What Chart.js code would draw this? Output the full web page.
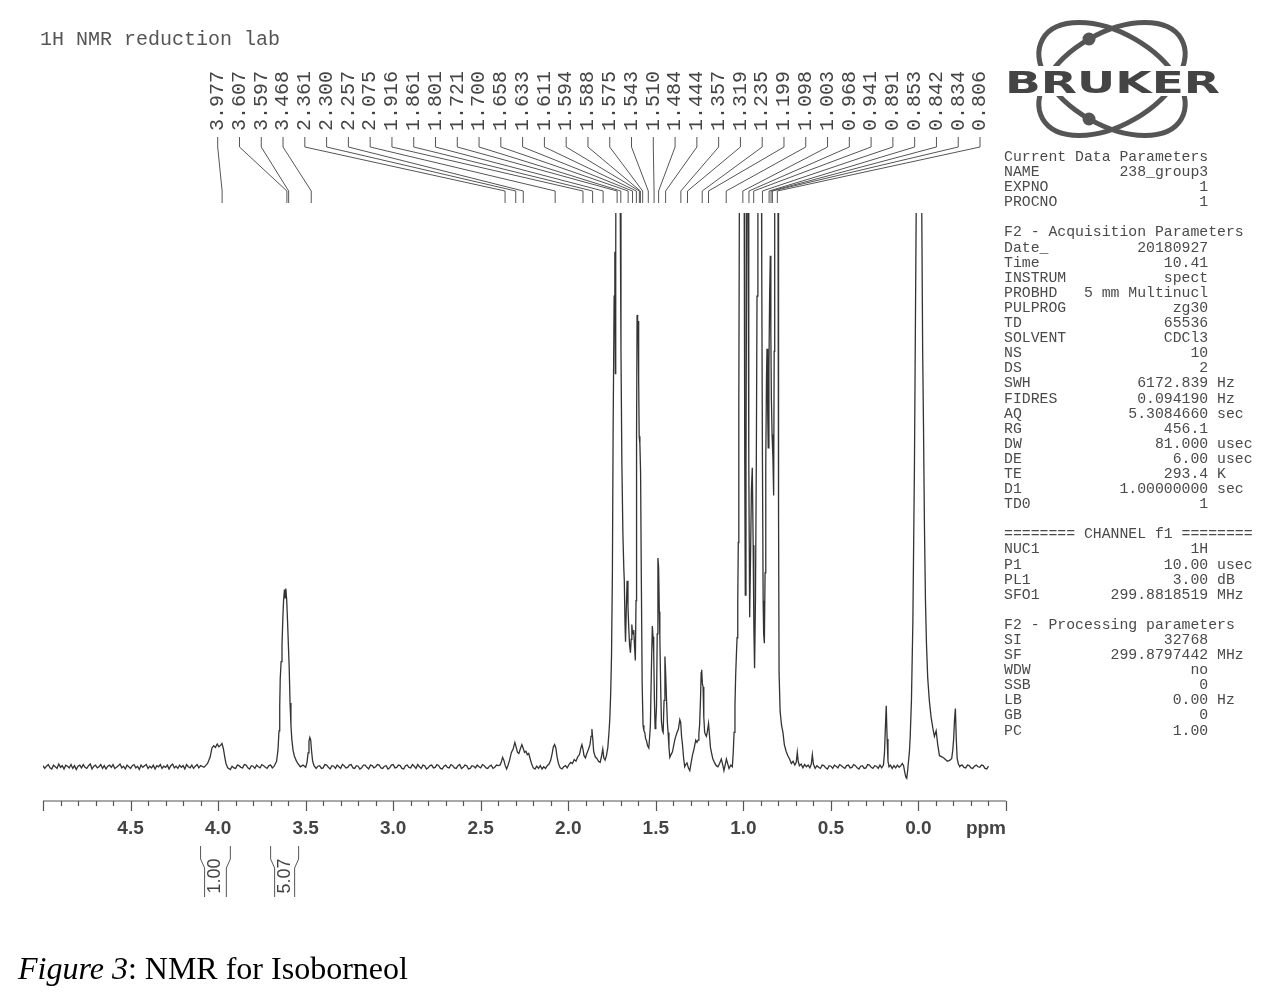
<!DOCTYPE html>
<html>
<head>
<meta charset="utf-8">
<script src="https://cdn.jsdelivr.net/npm/chart.js@4.4.1/dist/chart.umd.min.js"></script>
<style>
  html, body { margin: 0; padding: 0; background: #fff; }
  #page { position: relative; width: 1268px; height: 994px; overflow: hidden; }
  #nmr { position: absolute; left: 0; top: 0; }
  #title { position: absolute; left: 40px; top: 30px; font: 20px/20px "Liberation Mono", monospace; color: #555; white-space: pre; }
  #params { position: absolute; left: 1004px; top: 150px; margin: 0; font: 14.8px/15.1px "Liberation Mono", monospace; color: #4a4a4a; }
  #logo { position: absolute; left: 1000px; top: 10px; }
  #caption { position: absolute; left: 18px; top: 948px; font: 32px/40px "Liberation Serif", serif; color: #000; white-space: pre; }
</style>
</head>
<body>
<div id="page">
  <canvas id="nmr" width="1268" height="994"></canvas>
  <div id="title">1H NMR reduction lab</div>
  <svg id="logo" width="268" height="140" viewBox="1000 10 268 140">
    <ellipse cx="1112" cy="79" rx="80" ry="46" transform="rotate(30 1112 79)" fill="none" stroke="#555" stroke-width="5"/>
    <ellipse cx="1112" cy="79" rx="80" ry="46" transform="rotate(-30 1112 79)" fill="none" stroke="#555" stroke-width="5"/>
    <circle cx="1089" cy="39" r="6.5" fill="#555"/>
    <circle cx="1089" cy="119" r="6.5" fill="#555"/>
    <rect x="1003" y="66" width="222" height="30" fill="#fff"/>
    <text x="1005" y="93" font-family="DejaVu Sans" font-weight="bold" font-size="31" textLength="215" lengthAdjust="spacingAndGlyphs" fill="#444">BRUKER</text>
  </svg>
  <pre id="params"></pre>
  <div id="caption"><i>Figure 3</i>: NMR for Isoborneol</div>
</div>
<script>
"use strict";

// spectrum trace: [ppm, intensity] (100 = top of the plot, peaks above are clipped)
var spectrum = [
  [5.00,0.2],[4.99,-0.3],[4.98,0.1],[4.97,0.4],[4.96,-0.2],[4.95,-0.4],[4.94,0.3],[4.93,0.0],[4.92,-0.3],[4.91,0.5],
  [4.90,-0.1],[4.89,0.2],[4.88,-0.4],[4.87,0.3],[4.86,0.1],[4.85,-0.2],[4.84,0.4],[4.83,-0.3],[4.82,0.2],[4.81,-0.5],
  [4.80,0.1],[4.79,0.3],[4.78,-0.2],[4.77,0.4],[4.76,-0.1],[4.75,-0.3],[4.74,0.2],[4.73,0.5],[4.72,-0.4],[4.71,0.1],
  [4.70,0.3],[4.69,-0.2],[4.68,0.0],[4.67,0.4],[4.66,-0.3],[4.65,0.2],[4.64,-0.4],[4.63,0.1],[4.62,0.3],[4.61,-0.1],
  [4.60,0.4],[4.59,-0.3],[4.58,-0.1],[4.57,0.2],[4.56,0.5],[4.55,-0.2],[4.54,0.1],[4.53,-0.4],[4.52,0.3],[4.51,0.0],
  [4.50,-0.3],[4.49,0.2],[4.48,0.4],[4.47,-0.2],[4.46,0.1],[4.45,-0.5],[4.44,0.3],[4.43,-0.1],[4.42,0.2],[4.41,0.4],
  [4.40,-0.3],[4.39,0.1],[4.38,-0.2],[4.37,0.3],[4.36,-0.4],[4.35,0.2],[4.34,0.0],[4.33,0.4],[4.32,-0.3],[4.31,0.1],
  [4.30,-0.1],[4.29,0.3],[4.28,-0.4],[4.27,0.2],[4.26,0.5],[4.25,-0.2],[4.24,0.1],[4.23,-0.3],[4.22,0.3],[4.21,-0.1],
  [4.20,0.2],[4.19,-0.4],[4.18,0.4],[4.17,0.0],[4.16,-0.2],[4.15,0.3],[4.14,-0.3],[4.13,0.1],[4.12,0.4],[4.11,-0.2],
  [4.10,0.2],
  // 3.98 multiplet
  [4.08,-0.1],[4.06,0.6],[4.045,1.8],[4.035,3.4],[4.025,3.8],[4.015,3.5],[4.005,4.1],[3.995,3.6],[3.985,3.9],[3.978,4.2],
  [3.970,3.3],[3.962,1.8],[3.955,0.6],[3.945,-0.2],[3.93,-0.5],
  [3.92,0.1],[3.91,-0.2],[3.90,-0.3],[3.89,0.3],[3.88,0.2],[3.87,-0.1],[3.86,-0.2],[3.85,0.4],[3.84,0.3],[3.83,-0.2],
  [3.82,-0.4],[3.81,0.2],[3.80,0.1],[3.79,-0.3],[3.78,0.3],[3.77,0.0],[3.76,-0.2],[3.75,0.4],[3.74,0.2],[3.73,-0.1],
  [3.72,-0.3],[3.71,0.2],[3.70,0.3],[3.69,-0.2],[3.68,0.1],
  // 3.61
  [3.666,1.0],[3.658,3.0],[3.652,6.5],[3.648,11.0],[3.645,16.0],[3.640,19.0],[3.635,22.0],[3.630,27.0],[3.626,30.0],[3.621,32.0],
  [3.617,30.5],[3.613,32.2],[3.608,30.0],[3.603,26.0],[3.598,21.5],[3.594,18.0],[3.589,11.5],[3.584,7.5],[3.579,5.0],[3.572,3.0],
  [3.565,2.0],[3.555,1.2],[3.545,0.6],[3.530,0.0],[3.515,0.3],
  // 3.47
  [3.500,-0.1],[3.492,0.8],[3.486,2.5],[3.481,4.6],[3.476,5.3],[3.471,4.8],[3.466,2.8],[3.460,1.0],[3.452,0.2],[3.44,-0.3],
  [3.43,0.1],[3.42,0.2],[3.41,-0.3],[3.40,-0.2],[3.39,0.4],[3.38,0.3],[3.37,-0.1],[3.36,-0.4],[3.35,0.2],[3.34,0.1],
  [3.33,-0.3],[3.32,0.3],[3.31,0.0],[3.30,-0.3],[3.29,0.4],[3.28,0.2],[3.27,-0.2],[3.26,-0.1],[3.25,0.3],[3.24,0.4],
  [3.23,-0.2],[3.22,-0.3],[3.21,0.2],[3.20,0.1],[3.19,-0.4],[3.18,-0.2],[3.17,0.3],[3.16,0.3],[3.15,-0.1],[3.14,-0.4],
  [3.13,0.3],[3.12,0.2],[3.11,-0.2],[3.10,0.0],[3.09,0.4],[3.08,0.3],[3.07,-0.2],[3.06,-0.3],[3.05,0.1],[3.04,0.2],
  [3.03,-0.4],[3.02,-0.2],[3.01,0.3],[3.00,0.4],[2.99,-0.2],[2.98,-0.1],[2.97,0.3],[2.96,0.2],[2.95,-0.3],[2.94,-0.4],
  [2.93,0.2],[2.92,0.3],[2.91,-0.1],[2.90,-0.2],[2.89,0.4],[2.88,0.1],[2.87,-0.3],[2.86,0.4],[2.85,0.0],[2.84,-0.3],
  [2.83,0.3],[2.82,0.2],[2.81,-0.4],[2.80,-0.2],[2.79,0.2],[2.78,0.3],[2.77,-0.2],[2.76,-0.1],[2.75,0.4],[2.74,0.2],
  [2.73,-0.3],[2.72,-0.4],[2.71,0.1],[2.70,0.3],[2.69,-0.1],[2.68,-0.2],[2.67,0.4],[2.66,0.2],[2.65,-0.2],[2.64,-0.3],
  [2.63,0.2],[2.62,0.4],[2.61,-0.3],[2.60,-0.1],[2.59,0.3],[2.58,0.2],[2.57,-0.4],[2.56,-0.3],[2.55,0.2],[2.54,0.1],
  [2.53,-0.2],[2.52,0.3],[2.51,0.0],[2.50,-0.2],[2.49,0.4],[2.48,0.2],[2.47,-0.2],[2.46,-0.3],[2.45,0.1],[2.44,0.3],
  [2.43,-0.3],[2.42,-0.1],[2.41,0.3],[2.40,0.2],
  // 2.36 - 2.22
  [2.390,0.3],[2.382,0.9],[2.375,1.7],[2.368,1.2],[2.360,0.2],[2.352,-0.4],[2.345,0.2],[2.335,1.2],[2.325,2.6],[2.315,3.2],
  [2.305,4.4],[2.298,3.6],[2.290,2.6],[2.282,2.4],[2.274,3.2],[2.265,4.0],[2.258,3.4],[2.250,2.6],[2.242,2.8],[2.234,2.2],
  [2.226,2.4],[2.218,1.5],[2.210,0.6],[2.200,-0.2],[2.190,-0.4],[2.180,0.1],[2.170,-0.3],[2.160,0.2],[2.150,-0.4],[2.140,0.0],
  [2.130,-0.3],[2.120,0.2],
  // 2.075
  [2.110,0.5],[2.100,1.2],[2.092,2.4],[2.085,3.6],[2.078,4.0],[2.071,3.4],[2.064,1.8],[2.056,0.6],[2.046,-0.2],[2.036,-0.4],
  [2.026,0.0],[2.016,0.2],[2.006,-0.2],[1.996,0.4],
  // 1.99 - 1.76
  [1.986,0.8],[1.976,0.6],[1.966,1.3],[1.956,1.0],[1.946,1.8],[1.936,2.2],[1.928,3.4],[1.922,4.0],[1.916,3.2],[1.910,2.0],
  [1.902,1.6],[1.894,2.4],[1.884,3.2],[1.876,4.0],[1.870,5.5],[1.865,6.8],[1.860,5.0],[1.855,2.8],[1.846,1.8],[1.837,1.5],
  [1.827,1.0],[1.818,0.8],[1.810,1.9],[1.803,3.2],[1.797,1.6],[1.790,1.2],[1.782,2.0],[1.774,3.5],[1.768,6.0],[1.763,8.5],
  // 1.72 / 1.70 cluster
  [1.758,13.0],[1.753,20.0],[1.748,35.0],[1.744,60.0],[1.738,85.0],[1.734,93.0],[1.731,71.0],[1.729,90.0],[1.727,130.0],[1.718,170.0],
  [1.710,160.0],[1.706,130.0],[1.703,100.0],[1.699,75.0],[1.694,55.0],[1.688,42.0],[1.683,36.0],[1.680,33.6],[1.676,26.0],[1.673,22.6],
  [1.669,28.0],[1.664,33.6],[1.659,29.0],[1.655,25.4],[1.650,22.0],[1.645,20.6],[1.641,23.0],[1.637,25.7],[1.633,24.0],[1.630,24.0],
  [1.626,24.7],[1.622,22.0],[1.617,19.2],[1.613,30.0],[1.610,60.0],[1.607,81.6],[1.604,79.0],[1.601,80.5],[1.598,70.0],[1.595,59.7],
  [1.591,58.3],[1.587,53.2],[1.583,35.0],[1.578,15.0],[1.573,7.5],[1.568,6.5],[1.563,6.2],[1.558,5.0],[1.554,4.8],[1.547,3.8],
  // 1.54 - 1.42
  [1.540,3.4],[1.535,5.5],[1.531,7.5],[1.525,18.0],[1.520,25.4],[1.516,23.5],[1.512,20.6],[1.508,12.0],[1.504,6.9],[1.500,8.0],
  [1.496,11.0],[1.492,24.0],[1.488,37.7],[1.484,36.0],[1.480,28.0],[1.477,23.3],[1.472,14.0],[1.468,8.2],[1.462,6.5],[1.458,6.2],
  [1.453,12.0],[1.448,19.9],[1.444,17.0],[1.439,12.3],[1.434,8.0],[1.430,6.2],[1.425,3.5],[1.420,1.7],[1.413,2.2],[1.405,2.7],
  // 1.40 - 1.06
  [1.398,3.8],[1.392,4.8],[1.386,5.5],[1.379,6.2],[1.371,6.8],[1.363,8.5],[1.358,8.0],[1.353,5.5],[1.348,4.1],[1.341,1.5],
  [1.335,0.0],[1.329,0.4],[1.322,0.7],[1.314,-0.2],[1.306,-0.7],[1.298,0.8],[1.290,2.2],[1.282,3.2],[1.272,4.8],[1.265,4.4],
  [1.259,4.8],[1.254,6.0],[1.250,7.5],[1.245,12.0],[1.241,17.0],[1.238,17.5],[1.234,15.0],[1.230,14.4],[1.226,9.0],[1.221,6.2],
  [1.216,5.8],[1.211,5.5],[1.205,6.5],[1.199,7.8],[1.193,5.5],[1.188,3.5],[1.183,2.7],[1.175,1.5],[1.164,0.7],[1.155,0.2],
  [1.145,0.0],[1.136,0.6],[1.126,1.4],[1.118,0.4],[1.111,-0.7],[1.104,0.3],[1.097,1.4],[1.090,0.6],[1.082,-0.3],[1.072,0.3],
  [1.063,0.0],[1.058,2.5],[1.053,6.2],[1.048,11.0],[1.044,16.5],[1.040,20.0],[1.036,23.3],[1.032,30.0],[1.029,40.5],[1.026,65.0],
  // methyl region 1.02 - 0.80
  [1.023,100.0],[1.016,160.0],[1.006,150.0],[0.999,120.0],[0.995,100.0],[0.992,55.0],[0.989,31.0],[0.985,55.0],[0.981,100.0],[0.977,130.0],
  [0.973,100.0],[0.969,55.0],[0.964,27.0],[0.959,38.0],[0.954,50.0],[0.949,54.0],[0.944,40.0],[0.940,25.0],[0.936,17.8],[0.931,30.0],
  [0.926,55.0],[0.922,85.0],[0.917,120.0],[0.905,160.0],[0.898,120.0],[0.895,90.0],[0.891,55.0],[0.887,30.0],[0.884,24.0],[0.880,22.3],
  [0.876,35.0],[0.872,55.0],[0.868,70.0],[0.865,75.5],[0.861,64.0],[0.858,57.6],[0.854,72.0],[0.850,85.0],[0.846,92.3],[0.843,78.0],
  [0.840,66.5],[0.836,60.0],[0.831,55.6],[0.827,49.0],[0.824,75.0],[0.821,110.0],[0.815,160.0],[0.806,150.0],[0.802,100.0],[0.799,45.0],
  [0.796,17.0],[0.790,10.0],[0.782,7.5],[0.774,6.2],[0.766,4.0],[0.756,2.8],[0.746,2.0],[0.736,1.4],[0.726,0.6],[0.716,1.0],
  [0.706,0.3],[0.698,0.8],[0.692,2.6],[0.687,1.0],[0.680,0.2],[0.670,0.5],[0.660,-0.2],[0.650,0.4],[0.640,0.0],[0.630,0.3],
  [0.620,-0.2],[0.612,0.5],[0.606,2.2],[0.600,0.5],[0.590,-0.3],[0.580,0.2],
  [0.57,-0.1],[0.56,-0.3],[0.55,0.3],[0.54,0.2],[0.53,-0.2],[0.52,-0.4],[0.51,0.2],[0.50,0.1],[0.49,-0.3],[0.48,0.3],
  [0.47,0.1],[0.46,-0.2],[0.45,0.4],[0.44,0.2],[0.43,-0.1],[0.42,-0.3],[0.41,0.2],[0.40,0.3],[0.39,-0.2],[0.38,-0.1],
  [0.37,0.4],[0.36,0.2],[0.35,-0.2],[0.34,-0.4],[0.33,0.1],[0.32,0.2],[0.31,-0.3],[0.30,-0.2],[0.29,0.4],[0.28,0.3],
  [0.27,-0.1],[0.26,-0.3],[0.25,0.2],[0.24,0.1],[0.23,-0.3],[0.22,0.3],[0.21,-0.2],
  // satellite, TMS, satellite
  [0.200,0.3],[0.194,2.5],[0.189,7.0],[0.184,11.0],[0.179,5.0],[0.174,1.0],[0.168,0.0],[0.160,0.3],[0.150,-0.3],[0.140,0.2],
  [0.130,-0.2],[0.120,0.3],[0.110,-0.1],[0.100,0.2],[0.092,0.6],[0.085,0.2],[0.078,-1.0],[0.072,-1.9],[0.067,-2.1],[0.062,-0.8],
  [0.058,0.6],[0.052,2.5],[0.047,5.5],[0.040,12.0],[0.032,26.0],[0.023,54.0],[0.013,100.0],[0.005,180.0],[-0.003,220.0],[-0.011,180.0],
  [-0.019,100.0],[-0.024,75.0],[-0.029,61.0],[-0.034,44.0],[-0.040,30.0],[-0.046,22.0],[-0.053,16.0],[-0.062,12.0],[-0.072,9.0],[-0.082,7.0],
  [-0.091,5.5],[-0.101,6.5],[-0.110,4.0],[-0.120,2.0],[-0.134,1.8],[-0.148,1.5],[-0.165,1.0],[-0.180,1.2],[-0.190,1.5],[-0.196,3.0],
  [-0.201,5.0],[-0.206,8.5],[-0.211,10.5],[-0.216,5.0],[-0.221,1.5],[-0.228,0.5],[-0.236,0.0],
  [-0.24,0.2],[-0.25,0.3],[-0.26,-0.1],[-0.27,-0.2],[-0.28,0.3],[-0.29,0.2],[-0.30,-0.2],[-0.31,-0.3],[-0.32,0.1],[-0.33,0.3],
  [-0.34,0.0],[-0.35,-0.1],[-0.36,0.3],[-0.37,0.2],[-0.38,-0.3],[-0.39,-0.4],[-0.40,0.1]
];

// peak picking labels printed above the spectrum
var peakLabels = ["3.977", "3.607", "3.597", "3.468", "2.361", "2.300", "2.257", "2.075", "1.916",
  "1.861", "1.801", "1.721", "1.700", "1.658", "1.633", "1.611", "1.594", "1.588", "1.575",
  "1.543", "1.510", "1.484", "1.444", "1.357", "1.319", "1.235", "1.199", "1.098", "1.003",
  "0.968", "0.941", "0.891", "0.853", "0.842", "0.834", "0.806"];

// integral regions below the axis
var integralFrom = [4.10, 3.70];
var integralTo = [3.93, 3.54];
var integralValues = ["1.00", "5.07"];

// ppm axis
var tickValues = [4.5, 4.0, 3.5, 3.0, 2.5, 2.0, 1.5, 1.0, 0.5, 0.0];
var ppmMin = -0.5, ppmMax = 5.0;

// acquisition / processing parameter block
var paramRows = [
  ["Current Data Parameters"], ["NAME", "238_group3"], ["EXPNO", "1"], ["PROCNO", "1"], [""],
  ["F2 - Acquisition Parameters"], ["Date_", "20180927"], ["Time", "10.41"], ["INSTRUM", "spect"],
  ["PROBHD", "5 mm Multinucl"], ["PULPROG", "zg30"], ["TD", "65536"], ["SOLVENT", "CDCl3"],
  ["NS", "10"], ["DS", "2"], ["SWH", "6172.839", "Hz"], ["FIDRES", "0.094190", "Hz"],
  ["AQ", "5.3084660", "sec"], ["RG", "456.1"], ["DW", "81.000", "usec"], ["DE", "6.00", "usec"],
  ["TE", "293.4", "K"], ["D1", "1.00000000", "sec"], ["TD0", "1"], [""],
  ["======== CHANNEL f1 ========"], ["NUC1", "1H"], ["P1", "10.00", "usec"], ["PL1", "3.00", "dB"],
  ["SFO1", "299.8818519", "MHz"], [""],
  ["F2 - Processing parameters"], ["SI", "32768"], ["SF", "299.8797442", "MHz"], ["WDW", "no"],
  ["SSB", "0"], ["LB", "0.00", "Hz"], ["GB", "0"], ["PC", "1.00"]
];

document.getElementById("params").textContent = paramRows.map(function(r) {
  if (r.length < 2) return r[0];
  return r[0].padEnd(23 - r[1].length) + r[1] + (r[2] ? " " + r[2] : "");
}).join("\n");

var nmrDecor = {
  id: "nmrDecor",
  afterDatasetsDraw: function(chart) {
    var ctx = chart.ctx;
    var xs = chart.scales.x;
    var axisY = 801;
    ctx.save();
    ctx.strokeStyle = "#555";
    ctx.fillStyle = "#444";
    ctx.lineWidth = 1.2;

    // axis line + ticks
    ctx.beginPath();
    ctx.moveTo(xs.getPixelForValue(ppmMax), axisY);
    ctx.lineTo(xs.getPixelForValue(ppmMin), axisY);
    for (var k = -5; k <= 50; k++) {
      var px = Math.round(xs.getPixelForValue(k / 10)) + 0.5;
      ctx.moveTo(px, axisY);
      ctx.lineTo(px, axisY + (k % 5 === 0 ? 10 : 5));
    }
    ctx.stroke();

    ctx.font = "bold 19px 'Liberation Sans', Arial, sans-serif";
    ctx.textAlign = "center";
    ctx.textBaseline = "middle";
    tickValues.forEach(function(v) {
      ctx.fillText(v.toFixed(1), xs.getPixelForValue(v), 829);
    });
    ctx.textAlign = "right";
    ctx.fillText("ppm", xs.getPixelForValue(ppmMin), 829);

    // peak labels with their leader lines
    ctx.font = "20px 'Liberation Mono', monospace";
    ctx.textAlign = "left";
    ctx.lineWidth = 1;
    var x0 = 217.7, dx = 21.78;
    peakLabels.forEach(function(s, i) {
      var lx = x0 + i * dx;
      var px = xs.getPixelForValue(parseFloat(s));
      ctx.save();
      ctx.translate(lx, 131);
      ctx.rotate(-Math.PI / 2);
      ctx.fillText(s, 0, 0);
      ctx.restore();
      ctx.beginPath();
      ctx.moveTo(lx, 137);
      ctx.lineTo(lx, 147);
      ctx.lineTo(px, 191);
      ctx.lineTo(px, 203);
      ctx.stroke();
    });

    // integrals
    ctx.font = "18px 'Liberation Sans', Arial, sans-serif";
    ctx.textAlign = "center";
    integralValues.forEach(function(label, i) {
      var a = xs.getPixelForValue(integralFrom[i]);
      var b = xs.getPixelForValue(integralTo[i]);
      ctx.beginPath();
      ctx.moveTo(a, 846); ctx.lineTo(a, 859); ctx.lineTo(a + 4, 868); ctx.lineTo(a + 4, 897);
      ctx.moveTo(b, 846); ctx.lineTo(b, 859); ctx.lineTo(b - 4, 868); ctx.lineTo(b - 4, 897);
      ctx.stroke();
      ctx.save();
      ctx.translate((a + b) / 2, 876);
      ctx.rotate(-Math.PI / 2);
      ctx.fillText(label, 0, 0);
      ctx.restore();
    });
    ctx.restore();
  }
};

new Chart(document.getElementById("nmr").getContext("2d"), {
  type: "line",
  data: {
    datasets: [{
      data: spectrum.map(function(p) { return { x: p[0], y: p[1] }; }),
      borderColor: "#333",
      borderWidth: 1.3,
      pointRadius: 0,
      tension: 0,
      fill: false
    }]
  },
  options: {
    responsive: false,
    devicePixelRatio: 1,
    animation: false,
    layout: { padding: { left: 43, right: 262, top: 213, bottom: 194 } },
    plugins: { legend: { display: false }, tooltip: { enabled: false } },
    scales: {
      x: { type: "linear", reverse: true, min: ppmMin, max: ppmMax, display: false },
      y: { min: -6, max: 100, display: false }
    }
  },
  plugins: [nmrDecor]
});
</script>
</body>
</html>
